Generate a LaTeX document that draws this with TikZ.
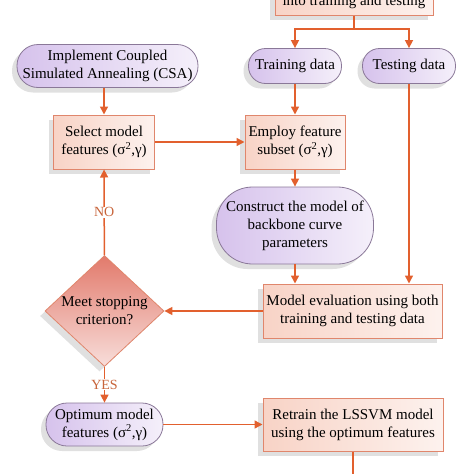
\documentclass[tikz,border=0pt]{standalone}
\usepackage{fontspec}
\setmainfont{Liberation Serif}
\usetikzlibrary{arrows.meta, positioning, calc, shapes.geometric, shadows}
\definecolor{arrowred}{HTML}{E2602E}
\definecolor{boxedge}{HTML}{E0866C}
\definecolor{boxfill}{HTML}{F8D3C6}
\definecolor{pillfill}{HTML}{D6C2EC}
\definecolor{pilledge}{HTML}{8A7898}
\definecolor{diafill}{HTML}{E27A6C}
\definecolor{labeltext}{HTML}{C8643A}

\begin{document}
\begin{tikzpicture}[
    x=1pt, y=-1pt,
    font=\fontsize{15}{18}\selectfont,
    shade/.style={drop shadow={shadow xshift=-5pt, shadow yshift=-5pt,
                  opacity=0.12, fill=black}},
    box/.style={draw=boxedge, line width=1pt, shade, align=center,
                left color=boxfill, right color=boxfill!30,
                minimum height=54pt, inner sep=2pt},
    pill/.style={draw=pilledge, line width=0.8pt, shade, align=center,
                 left color=pillfill, right color=pillfill!25, inner sep=2pt},
    decide/.style={diamond, draw=boxedge, line width=0.8pt, shade, align=center,
                   shading angle=135, top color=diafill, bottom color=diafill!25,
                   minimum width=119pt, minimum height=111pt, inner sep=-2pt},
    arr/.style={-{Triangle[length=8pt, width=8pt]}, line width=1.5pt, draw=arrowred},
    line/.style={line width=1.5pt, draw=arrowred},
    tag/.style={fill=white, text=labeltext, inner sep=1pt,
                font=\fontsize{14}{16}\selectfont}
  ]
  \useasboundingbox (0,0) rectangle (474,474);

  % top row
  \node[box, minimum width=158pt, minimum height=34pt] (split) at (354,-2)
        {~\\into training and testing};
  \node[pill, minimum width=93pt, minimum height=35pt, rounded corners=17pt]
        (train) at (295,66) {Training data};
  \node[pill, minimum width=93pt, minimum height=35pt, rounded corners=17pt]
        (test)  at (409,66) {Testing data};
  \node[pill, minimum width=181pt, minimum height=43pt, rounded corners=21pt]
        (csa)   at (107.5,66) {Implement Coupled\\Simulated Annealing (CSA)};

  % middle
  \node[box, minimum width=101pt] (select) at (104,142)
        {Select model\\features (σ\textsuperscript{2},γ)};
  \node[box, minimum width=100pt] (employ) at (295,142)
        {Employ feature\\subset (σ\textsuperscript{2},γ)};
  \node[pill, minimum width=157pt, minimum height=77pt, rounded corners=36pt]
        (build) at (295,225.5) {Construct the model of\\backbone curve\\parameters};
  \node[box, minimum width=179pt] (eval) at (352.5,311)
        {Model evaluation using both\\training and testing data};
  \node[decide] (stop) at (104.5,311) {Meet stopping\\criterion?};

  % bottom row
  \node[pill, minimum width=117pt, minimum height=43pt, rounded corners=21pt]
        (best) at (104.5,424.5) {Optimum model\\features (σ\textsuperscript{2},γ)};
  \node[box, minimum width=180pt, minimum height=53pt] (retrain) at (353,424.5)
        {Retrain the LSSVM model\\using the optimum features};

  \coordinate (fork) at (354,29);
  \coordinate (out)  at (353,480);

  % connectors
  \draw[line] (split) -- (fork);
  \draw[arr]  (fork) -| (train);
  \draw[arr]  (fork) -| (test);
  \draw[arr]  (csa.south -| select.north) -- (select);
  \draw[arr]  (train) -- (employ);
  \draw[arr]  (select) -- (employ);
  \draw[arr]  (employ) -- (build);
  \draw[arr]  (build) -- (build.south |- eval.north);
  \draw[arr]  (test) -- (test.south |- eval.north);
  \draw[arr]  (eval) -- (stop);
  \draw[arr]  (stop) -- node[tag] {NO} (select);
  \draw[arr]  (stop) -- node[tag] {YES} (best);
  \draw[arr]  (best) -- (retrain);
  \draw[line] (retrain) -- (out);
\end{tikzpicture}
\end{document}
